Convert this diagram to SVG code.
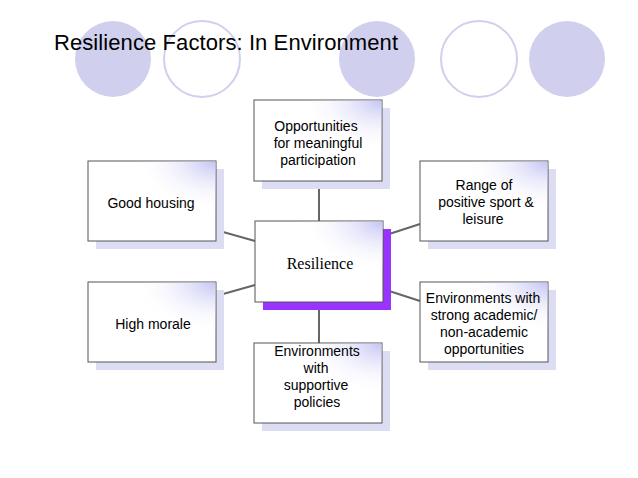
<svg xmlns="http://www.w3.org/2000/svg" width="638" height="478" viewBox="0 0 638 478">
<style>
.box{fill:#fff;stroke:#555;stroke-width:1}
.sh{fill:#dcdcf2}
.t{font-family:"Liberation Sans",Arial,sans-serif;font-size:14px;fill:#000;text-anchor:middle}
.c{stroke:#666;stroke-width:2;fill:none}
</style>
<defs>
<radialGradient id="g" cx="1" cy="0" r="1">
<stop offset="0" stop-color="#c4c4f4"/>
<stop offset="1" stop-color="#fff" stop-opacity="0"/>
</radialGradient>
</defs>
<rect width="638" height="478" fill="#fff"/>
<g id="decor">
<circle cx="113" cy="59" r="38" fill="#d0d0ee"/>
<circle cx="202" cy="59" r="38" fill="#fff" stroke="#d0d0ee" stroke-width="2"/>
<circle cx="377" cy="59" r="38" fill="#d0d0ee"/>
<circle cx="479" cy="59" r="38" fill="#fff" stroke="#d0d0ee" stroke-width="2"/>
<circle cx="567" cy="59" r="38" fill="#d0d0ee"/>
</g>
<text x="54" y="50" font-family="'Liberation Sans',Arial,sans-serif" font-size="22" fill="#000" textLength="344">Resilience Factors: In Environment</text>
<g id="connectors">
<line class="c" x1="319" y1="181" x2="319" y2="221"/>
<line class="c" x1="319" y1="302" x2="319" y2="343"/>
<line class="c" x1="216" y1="230" x2="255" y2="241"/>
<line class="c" x1="216" y1="296" x2="255" y2="285"/>
<line class="c" x1="383" y1="236" x2="420" y2="224"/>
<line class="c" x1="383" y1="289" x2="420" y2="301"/>
</g>
<g id="n-top">
<rect class="sh" x="262" y="108" width="128" height="81"/>
<rect class="box" x="254" y="100" width="128" height="81"/>
<rect x="300" y="100.5" width="81.5" height="50" fill="url(#g)"/>
<text class="t"><tspan x="316" y="131">Opportunities</tspan><tspan x="318" y="148">for meaningful</tspan><tspan x="318" y="165">participation</tspan></text>
</g>
<g id="n-housing">
<rect class="sh" x="96" y="169" width="128" height="80"/>
<rect class="box" x="88" y="161" width="128" height="80"/>
<rect x="134" y="161.5" width="81.5" height="50" fill="url(#g)"/>
<text class="t" x="151" y="208">Good housing</text>
</g>
<g id="n-sport">
<rect class="sh" x="428" y="169" width="128" height="80"/>
<rect class="box" x="420" y="161" width="128" height="80"/>
<rect x="466" y="161.5" width="81.5" height="50" fill="url(#g)"/>
<text class="t"><tspan x="484" y="190">Range of</tspan><tspan x="486" y="207">positive sport &amp;</tspan><tspan x="483" y="224">leisure</tspan></text>
</g>
<g id="n-center">
<rect x="263" y="229" width="128" height="81" fill="#9933ff"/>
<rect class="box" x="255" y="221" width="128" height="81"/>
<rect x="301" y="221.5" width="81.5" height="50" fill="url(#g)"/>
<text x="320" y="269" font-family="'Liberation Serif','Times New Roman',serif" font-size="16" text-anchor="middle">Resilience</text>
</g>
<g id="n-morale">
<rect class="sh" x="96" y="290" width="128" height="80"/>
<rect class="box" x="88" y="282" width="128" height="80"/>
<rect x="134" y="282.5" width="81.5" height="50" fill="url(#g)"/>
<text class="t" x="153" y="329">High morale</text>
</g>
<g id="n-academic">
<rect class="sh" x="428" y="290" width="128" height="80"/>
<rect class="box" x="420" y="282" width="128" height="80"/>
<rect x="466" y="282.5" width="81.5" height="50" fill="url(#g)"/>
<text class="t"><tspan x="483" y="303">Environments with</tspan><tspan x="484" y="320">strong academic/</tspan><tspan x="484" y="337">non-academic</tspan><tspan x="484" y="354">opportunities</tspan></text>
</g>
<g id="n-policies">
<rect class="sh" x="262" y="351" width="128" height="80"/>
<rect class="box" x="254" y="343" width="128" height="80"/>
<rect x="300" y="343.5" width="81.5" height="50" fill="url(#g)"/>
<text class="t"><tspan x="317" y="356">Environments</tspan><tspan x="316" y="373">with</tspan><tspan x="316" y="390">supportive</tspan><tspan x="317" y="407">policies</tspan></text>
</g>
</svg>
